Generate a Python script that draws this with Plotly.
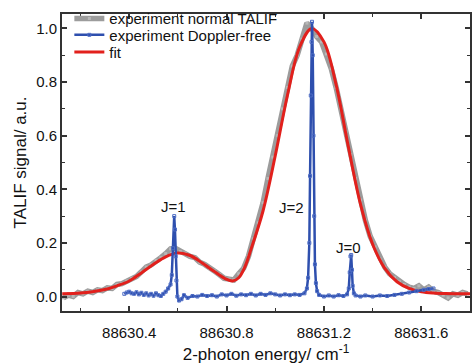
import plotly.graph_objects as go

# ---- data ----
E0 = 88630.0
# experiment normal TALIF (gray)
gray_x = [0.13, 0.15, 0.17, 0.19, 0.21, 0.23, 0.25, 0.27, 0.29, 0.31, 0.33, 0.35, 0.37, 0.39,
          0.41, 0.43, 0.45, 0.47, 0.49, 0.51, 0.53, 0.55, 0.57, 0.59, 0.61, 0.63, 0.65, 0.67,
          0.69, 0.71, 0.73, 0.75, 0.77, 0.79, 0.81, 0.83, 0.85, 0.87, 0.89, 0.91, 0.93, 0.95,
          0.97, 0.99, 1.01, 1.03, 1.05, 1.07, 1.09, 1.11, 1.13, 1.15, 1.17, 1.19, 1.21, 1.23,
          1.25, 1.27, 1.29, 1.31, 1.33, 1.35, 1.37, 1.39, 1.41, 1.43, 1.45, 1.47, 1.49, 1.51,
          1.53, 1.55, 1.57, 1.59, 1.61, 1.63, 1.65, 1.67, 1.69, 1.71, 1.73, 1.75, 1.77, 1.79]
gray_y = [-0.005, 0.005, 0.000, 0.015, 0.010, 0.020, 0.015, 0.025, 0.022, 0.032, 0.030, 0.045,
          0.048, 0.058, 0.068, 0.075, 0.092, 0.110, 0.118, 0.135, 0.145, 0.160, 0.178, 0.180,
          0.168, 0.162, 0.150, 0.145, 0.128, 0.120, 0.105, 0.095, 0.082, 0.068, 0.065, 0.062,
          0.085, 0.105, 0.150, 0.215, 0.275, 0.350, 0.440, 0.520, 0.600, 0.700, 0.780, 0.860,
          0.900, 0.960, 1.020, 1.000, 0.970, 0.950, 0.905, 0.850, 0.780, 0.700, 0.615, 0.530,
          0.440, 0.360, 0.285, 0.225, 0.185, 0.140, 0.110, 0.085, 0.070, 0.055, 0.045, 0.035,
          0.030, 0.040, 0.025, 0.035, 0.020, 0.015, 0.005, -0.005, 0.010, 0.005, 0.015, 0.010]

# experiment Doppler-free (blue)
blue_x = [0.38, 0.39, 0.40, 0.41, 0.42, 0.43, 0.44, 0.45, 0.46, 0.47, 0.48, 0.49, 0.50, 0.51,
          0.52, 0.53, 0.54, 0.55, 0.56, 0.57, 0.575, 0.580, 0.585, 0.588, 0.591, 0.594, 0.598,
          0.605, 0.615, 0.625, 0.64, 0.66, 0.68, 0.70, 0.72, 0.74, 0.76, 0.78, 0.80, 0.82,
          0.84, 0.86, 0.88, 0.90, 0.92, 0.94, 0.96, 0.98, 1.00, 1.02, 1.04, 1.06, 1.08, 1.10,
          1.12, 1.13, 1.135, 1.14, 1.143, 1.146, 1.149, 1.151, 1.154, 1.157, 1.160, 1.163,
          1.167, 1.172, 1.18, 1.20, 1.22, 1.24, 1.26, 1.28, 1.295, 1.302, 1.306, 1.309, 1.312,
          1.315, 1.318, 1.323, 1.33, 1.35, 1.37, 1.40, 1.43, 1.46, 1.49, 1.52, 1.55, 1.58,
          1.61, 1.63, 1.65]
blue_y = [0.010, 0.015, 0.018, 0.012, 0.010, 0.016, 0.008, 0.014, 0.006, 0.012, 0.004, 0.010,
          0.003, 0.012, 0.005, 0.002, 0.010, 0.018, 0.030, 0.045, 0.080, 0.180, 0.300, 0.250,
          0.150, 0.060, 0.000, -0.015, -0.010, 0.005, -0.005, 0.002, 0.000, 0.006, 0.002, 0.005,
          0.000, 0.008, 0.004, 0.010, 0.003, 0.008, 0.005, 0.010, 0.004, 0.010, 0.006, 0.012,
          0.008, 0.004, 0.008, 0.005, 0.008, 0.006, 0.012, 0.030, 0.070, 0.200, 0.450, 0.750,
          0.950, 1.025, 0.900, 0.600, 0.300, 0.120, 0.050, 0.020, 0.006, 0.000, 0.004, 0.000,
          0.005, 0.002, 0.008, 0.030, 0.090, 0.150, 0.155, 0.100, 0.040, 0.012, 0.004, 0.000,
          0.004, 0.000, 0.004, 0.002, 0.006, 0.010, 0.015, 0.020, 0.025, 0.028, 0.030]

# fit (red)
fit_x = [0.125, 0.20, 0.25, 0.30, 0.35, 0.40, 0.45, 0.50, 0.55, 0.60, 0.65, 0.70, 0.75, 0.80,
         0.825, 0.85, 0.875, 0.90, 0.95, 1.00, 1.05, 1.10, 1.15, 1.20, 1.25, 1.30, 1.35, 1.40,
         1.45, 1.50, 1.55, 1.60, 1.65, 1.70, 1.80]
fit_y = [0.010, 0.013, 0.018, 0.026, 0.040, 0.058, 0.088, 0.120, 0.148, 0.162, 0.153, 0.125,
         0.093, 0.064, 0.058, 0.070, 0.110, 0.175, 0.320, 0.525, 0.750, 0.930, 1.000, 0.950,
         0.790, 0.560, 0.345, 0.195, 0.105, 0.055, 0.030, 0.018, 0.013, 0.011, 0.010]

labels = ["J=1", "J=2", "J=0"]
label_x = [0.583, 1.066, 1.301]
label_y = [0.337, 0.333, 0.183]

x_ticks = [88630.4, 88630.8, 88631.2, 88631.6]
y_ticks = [0.0, 0.2, 0.4, 0.6, 0.8, 1.0]

FONT = "Liberation Sans, Arial, sans-serif"

fig = go.Figure()
fig.add_trace(go.Scatter(
    x=[E0 + v for v in gray_x], y=gray_y, mode="lines+markers",
    name="experiment normal TALIF", legend="legend2", showlegend=True,
    line=dict(color="#9c9c9c", width=5.5),
    marker=dict(symbol="square", size=3, color="#b8b8b8"),
))
fig.add_trace(go.Scatter(
    x=[E0 + v for v in fit_x], y=fit_y, mode="lines", line_shape="spline",
    name="fit", legend="legend4", showlegend=True,
    line=dict(color="#e2201c", width=3),
))
fig.add_trace(go.Scatter(
    x=[E0 + v for v in blue_x], y=blue_y, mode="lines+markers",
    name="experiment Doppler-free", legend="legend3", showlegend=True,
    line=dict(color="#2e4fae", width=2.5),
    marker=dict(symbol="square-open", size=3, color="#4d6cc4", line=dict(width=1)),
))

for t, xv, yv in zip(labels, label_x, label_y):
    fig.add_annotation(x=E0 + xv, y=yv, text=t, showarrow=False,
                       font=dict(family=FONT, size=15, color="#111"))

axis_common = dict(
    showline=True, linecolor="#333", linewidth=2, mirror="ticks",
    ticks="inside", ticklen=5, tickwidth=1.5, tickcolor="#333",
    showgrid=False, zeroline=False,
    tickfont=dict(family=FONT, size=15, color="#111"),
)

fig.update_xaxes(
    range=[88630.124, 88631.8], tickvals=x_ticks,
    ticktext=[f"{v:.1f}" for v in x_ticks],
    ticklabelstandoff=7,
    minor=dict(ticks="inside", ticklen=3, tickwidth=1, tickcolor="#333", dtick=0.2,
               tick0=88630.2, showgrid=False),
    title=dict(text="2-photon energy/ cm<sup>-1</sup>", standoff=8,
               font=dict(family=FONT, size=17, color="#111")),
    **axis_common,
)
fig.update_yaxes(
    range=[-0.054, 1.054], tickvals=y_ticks,
    ticktext=[f"{v:.1f}" for v in y_ticks],
    minor=dict(ticks="inside", ticklen=3, tickwidth=1, tickcolor="#333", dtick=0.1,
               tick0=0.1, showgrid=False),
    title=dict(text="TALIF signal/ a.u.", standoff=5,
               font=dict(family=FONT, size=17, color="#111")),
    **axis_common,
)

leg_common = dict(x=0.018, xanchor="left", yanchor="middle",
                  bgcolor="rgba(0,0,0,0)", font=dict(family=FONT, size=15, color="#111"),
                  itemwidth=30)
fig.update_layout(
    width=474, height=364,
    margin=dict(l=62, r=4, t=2, b=53),
    plot_bgcolor="white", paper_bgcolor="white",
    font=dict(family=FONT, color="#111"),
    showlegend=True,
    legend2=dict(y=0.984, **leg_common),
    legend3=dict(y=0.929, **leg_common),
    legend4=dict(y=0.871, **leg_common),
)

fig.write_html("out.html")
